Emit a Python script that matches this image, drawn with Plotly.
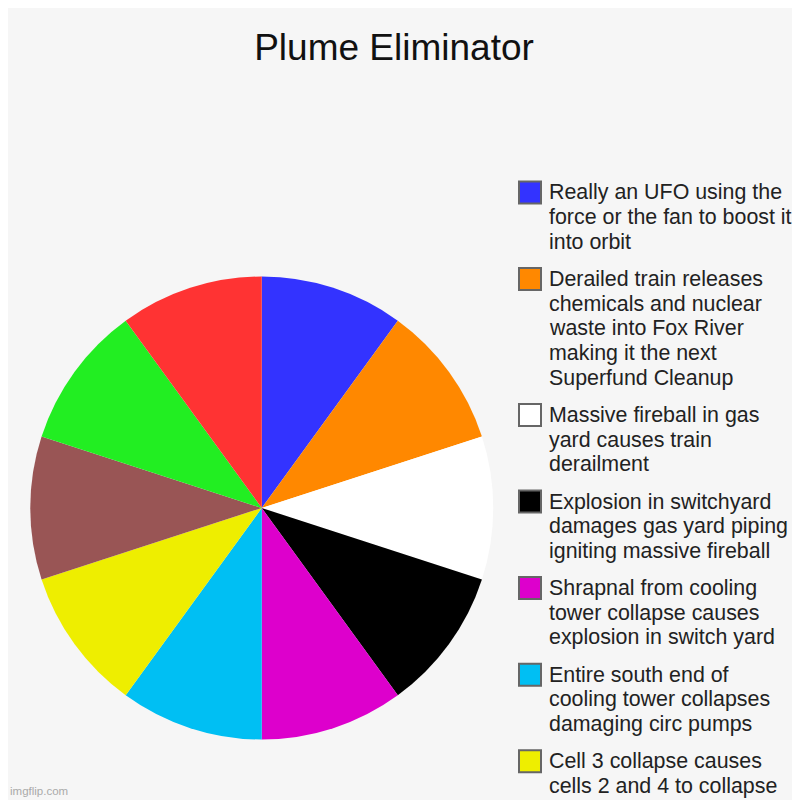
import plotly.graph_objects as go

# slice data, clockwise from 12 o'clock
labels = [
    "Really an UFO using the<br>force or the fan to boost it<br>into orbit",
    "Derailed train releases<br>chemicals and nuclear<br>waste into Fox River<br>making it the next<br>Superfund Cleanup",
    "Massive fireball in gas<br>yard causes train<br>derailment",
    "Explosion in switchyard<br>damages gas yard piping<br>igniting massive fireball",
    "Shrapnal from cooling<br>tower collapse causes<br>explosion in switch yard",
    "Entire south end of<br>cooling tower collapses<br>damaging circ pumps",
    "Cell 3 collapse causes<br>cells 2 and 4 to collapse",
    "Event 8",
    "Event 9",
    "Event 10",
]
values = [1, 1, 1, 1, 1, 1, 1, 1, 1, 1]
colors = ["#3333FF", "#FF8800", "#FFFFFF", "#000000", "#DD00CC",
          "#00BFF3", "#EEEE00", "#995555", "#22EE22", "#FF3333"]
shown_in_legend = 7  # the rest fall off the bottom of the image

W = H = 800
OFF = 8  # page body margin pushes the plot down/right

def px(x):
    return (x - OFF) / W

def py(y):
    return 1 - (y - OFF) / H

fig = go.Figure()
fig.add_trace(go.Pie(
    labels=labels,
    values=values,
    marker=dict(colors=colors, line=dict(width=0)),
    sort=False,
    direction="clockwise",
    rotation=0,
    textinfo="none",
    hoverinfo="label+percent",
    showlegend=False,
    domain=dict(x=[px(30), px(493.5)], y=[py(739.5), py(276.5)]),
))

# hand-built legend so line spacing matches
shapes = []
annotations = []
font = "Liberation Sans, Arial, sans-serif"
base = 200.0
line_h = 24.6
gap = 12.8
for i in range(shown_in_legend):
    lines = labels[i].split("<br>")
    shapes.append(dict(
        type="rect", xref="paper", yref="paper",
        x0=px(519), x1=px(541), y0=py(base + 3.5), y1=py(base - 18.5),
        fillcolor=colors[i], line=dict(color="#666666", width=2),
    ))
    for j, ln in enumerate(lines):
        annotations.append(dict(
            text=ln, xref="paper", yref="paper",
            x=px(547), y=py(base + j * line_h - 7.5),
            xanchor="left", yanchor="middle", showarrow=False,
            font=dict(family=font, size=21.4, color="#222222"),
        ))
    base += len(lines) * line_h + gap

annotations.append(dict(
    text="imgflip.com", xref="paper", yref="paper",
    x=px(8), y=py(791), xanchor="left", yanchor="middle", showarrow=False,
    font=dict(family=font, size=11.5, color="#aaaaaa"),
))

fig.update_layout(
    width=W, height=H,
    margin=dict(l=0, r=0, t=0, b=0),
    paper_bgcolor="#F6F6F6",
    plot_bgcolor="#F6F6F6",
    title=dict(text="Plume Eliminator", x=px(394), xanchor="center",
               y=py(47), yanchor="middle",
               font=dict(family=font, size=37, color="#111111")),
    shapes=shapes,
    annotations=annotations,
)

fig.write_html("out.html")
